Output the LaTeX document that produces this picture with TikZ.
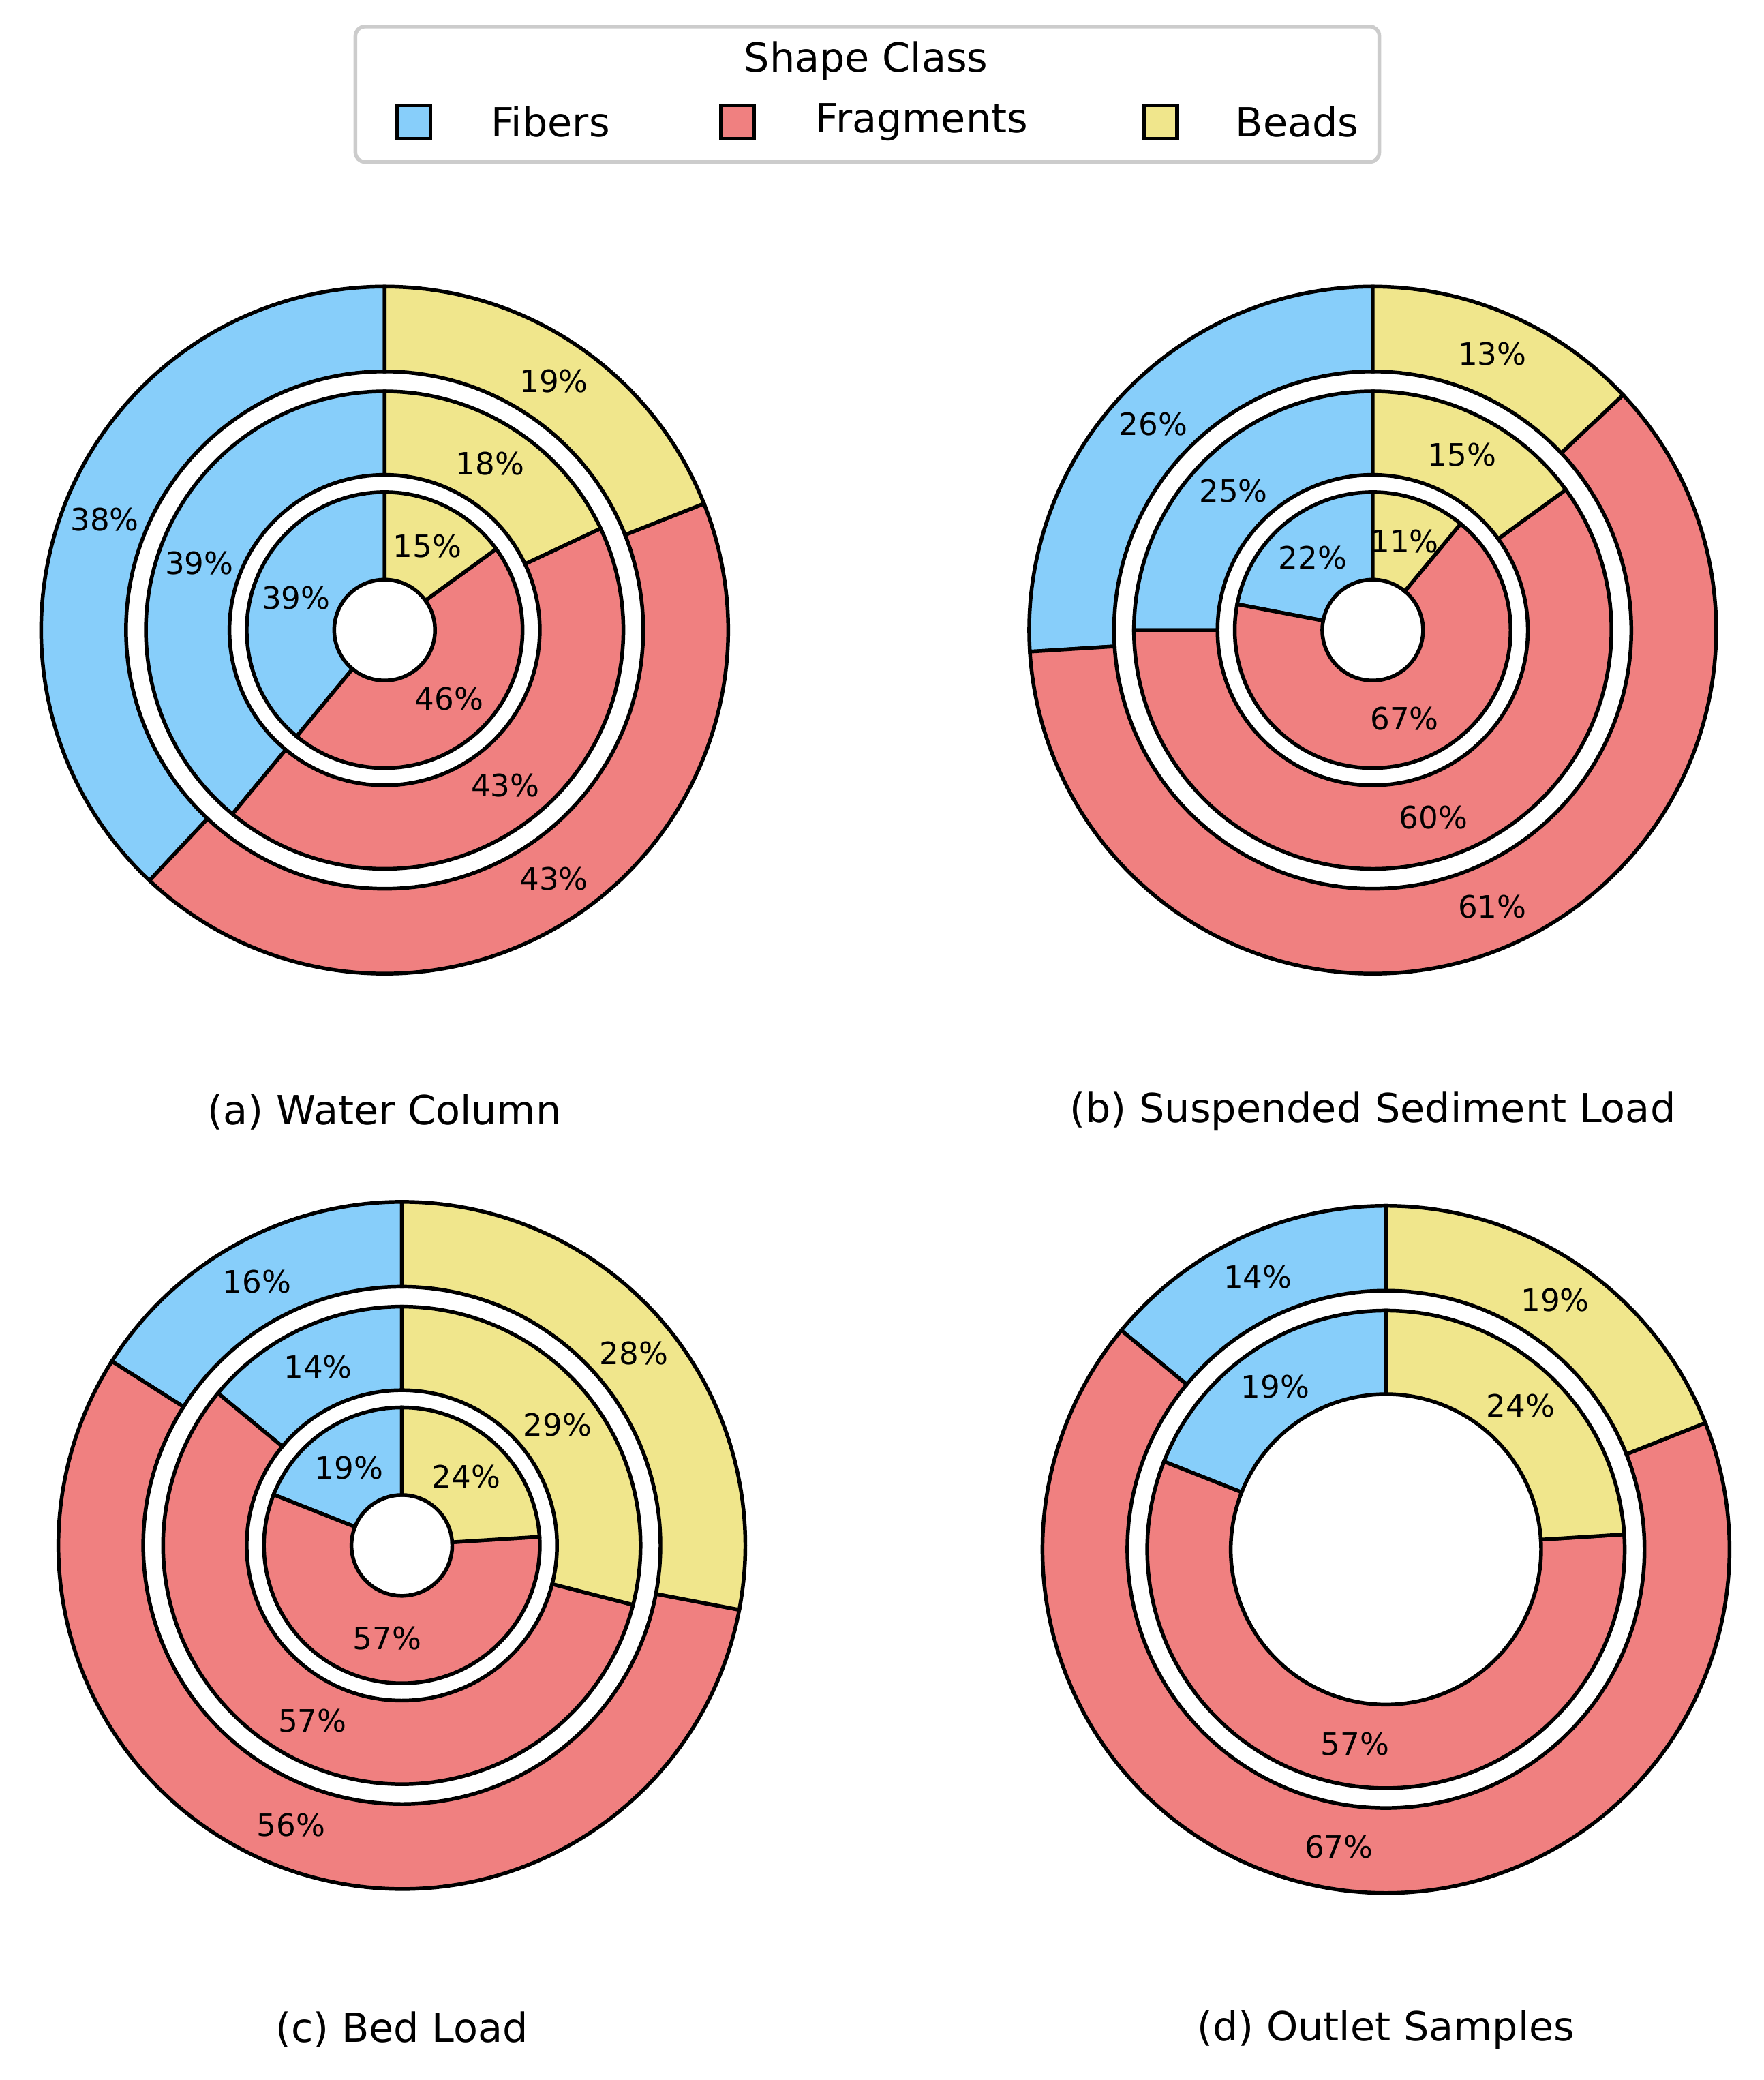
\documentclass[tikz,border=0pt]{standalone}
\usepackage{fontspec}
\setmainfont{DejaVu Sans}
\definecolor{fibcol}{HTML}{87CEFA}
\definecolor{fracol}{HTML}{F08080}
\definecolor{beacol}{HTML}{F0E68C}
\tikzset{
  slice/.style={draw=black, line width=0.8pt},
  pct/.style={font=\fontsize{6.6}{8}\selectfont},
  title/.style={font=\fontsize{8.6}{10}\selectfont},
  legsq/.style={draw=black, line width=0.8pt, minimum size=0.25cm, inner sep=0pt}
}
% one ring: cx, cy, inner radius, outer radius, fibers, fragments, beads, name
\newcommand\donutring[8]{%
  \pgfmathsetmacro\aa{90+3.6*#5}%
  \pgfmathsetmacro\ab{\aa+3.6*#6}%
  \pgfmathsetmacro\rm{(#3+#4)/2}%
  \begin{scope}[shift={(#1,#2)}]
    \filldraw[slice, fill=fibcol] (90:#3) arc[start angle=90, end angle=\aa, radius=#3]
      -- (\aa:#4) arc[start angle=\aa, end angle=90, radius=#4] -- cycle;
    \filldraw[slice, fill=fracol] (\aa:#3) arc[start angle=\aa, end angle=\ab, radius=#3]
      -- (\ab:#4) arc[start angle=\ab, end angle=\aa, radius=#4] -- cycle;
    \filldraw[slice, fill=beacol] (\ab:#3) arc[start angle=\ab, end angle=450, radius=#3]
      -- (450:#4) arc[start angle=450, end angle=\ab, radius=#4] -- cycle;
    \pgfmathsetmacro\ma{(90+\aa)/2}%
    \pgfmathsetmacro\mb{(\aa+\ab)/2}%
    \pgfmathsetmacro\mc{(\ab+450)/2}%
    \node[pct] (#8-fib) at (\ma:\rm) {#5\%};
    \node[pct] (#8-fra) at (\mb:\rm) {#6\%};
    \node[pct] (#8-bea) at (\mc:\rm) {#7\%};
  \end{scope}}
\begin{document}
\begin{tikzpicture}[x=0.01cm, y=0.01cm]
  \useasboundingbox (0,0) rectangle (1330,1568);

  % legend
  \draw[gray!40, line width=0.8pt, rounded corners=2pt] (268,1446) rectangle (1040,1548);
  \node[title] (legtitle) at (653,1522) {Shape Class};
  \node[legsq, fill=fibcol] (sqfib) at (312,1476) {};
  \node[title] (txtfib) at (415,1476) {Fibers};
  \node[legsq, fill=fracol] (sqfra) at (556,1476) {};
  \node[title] (txtfra) at (695,1476) {Fragments};
  \node[legsq, fill=beacol] (sqbea) at (875,1476) {};
  \node[title] (txtbea) at (978,1476) {Beads};

  % (a) water column
  \donutring{290}{1093}{195}{259}{38}{43}{19}{aout}
  \donutring{290}{1093}{117}{180}{39}{43}{18}{amid}
  \donutring{290}{1093}{38}{104}{39}{46}{15}{ain}
  \node[title] (tita) at (290,730) {(a) Water Column};

  % (b) suspended sediment load
  \donutring{1035}{1093}{195}{259}{26}{61}{13}{bout}
  \donutring{1035}{1093}{117}{180}{25}{60}{15}{bmid}
  \donutring{1035}{1093}{38}{104}{22}{67}{11}{bin}
  \node[title] (titb) at (1035,730) {(b) Suspended Sediment Load};

  % (c) bed load
  \donutring{303}{403}{195}{259}{16}{56}{28}{cout}
  \donutring{303}{403}{117}{180}{14}{57}{29}{cmid}
  \donutring{303}{403}{38}{104}{19}{57}{24}{cin}
  \node[title] (titc) at (303,38) {(c) Bed Load};

  % (d) outlet samples
  \donutring{1045}{400}{195}{259}{14}{67}{19}{dout}
  \donutring{1045}{400}{117}{180}{19}{57}{24}{dmid}
  \node[title] (titd) at (1045,38) {(d) Outlet Samples};
\end{tikzpicture}
\end{document}
